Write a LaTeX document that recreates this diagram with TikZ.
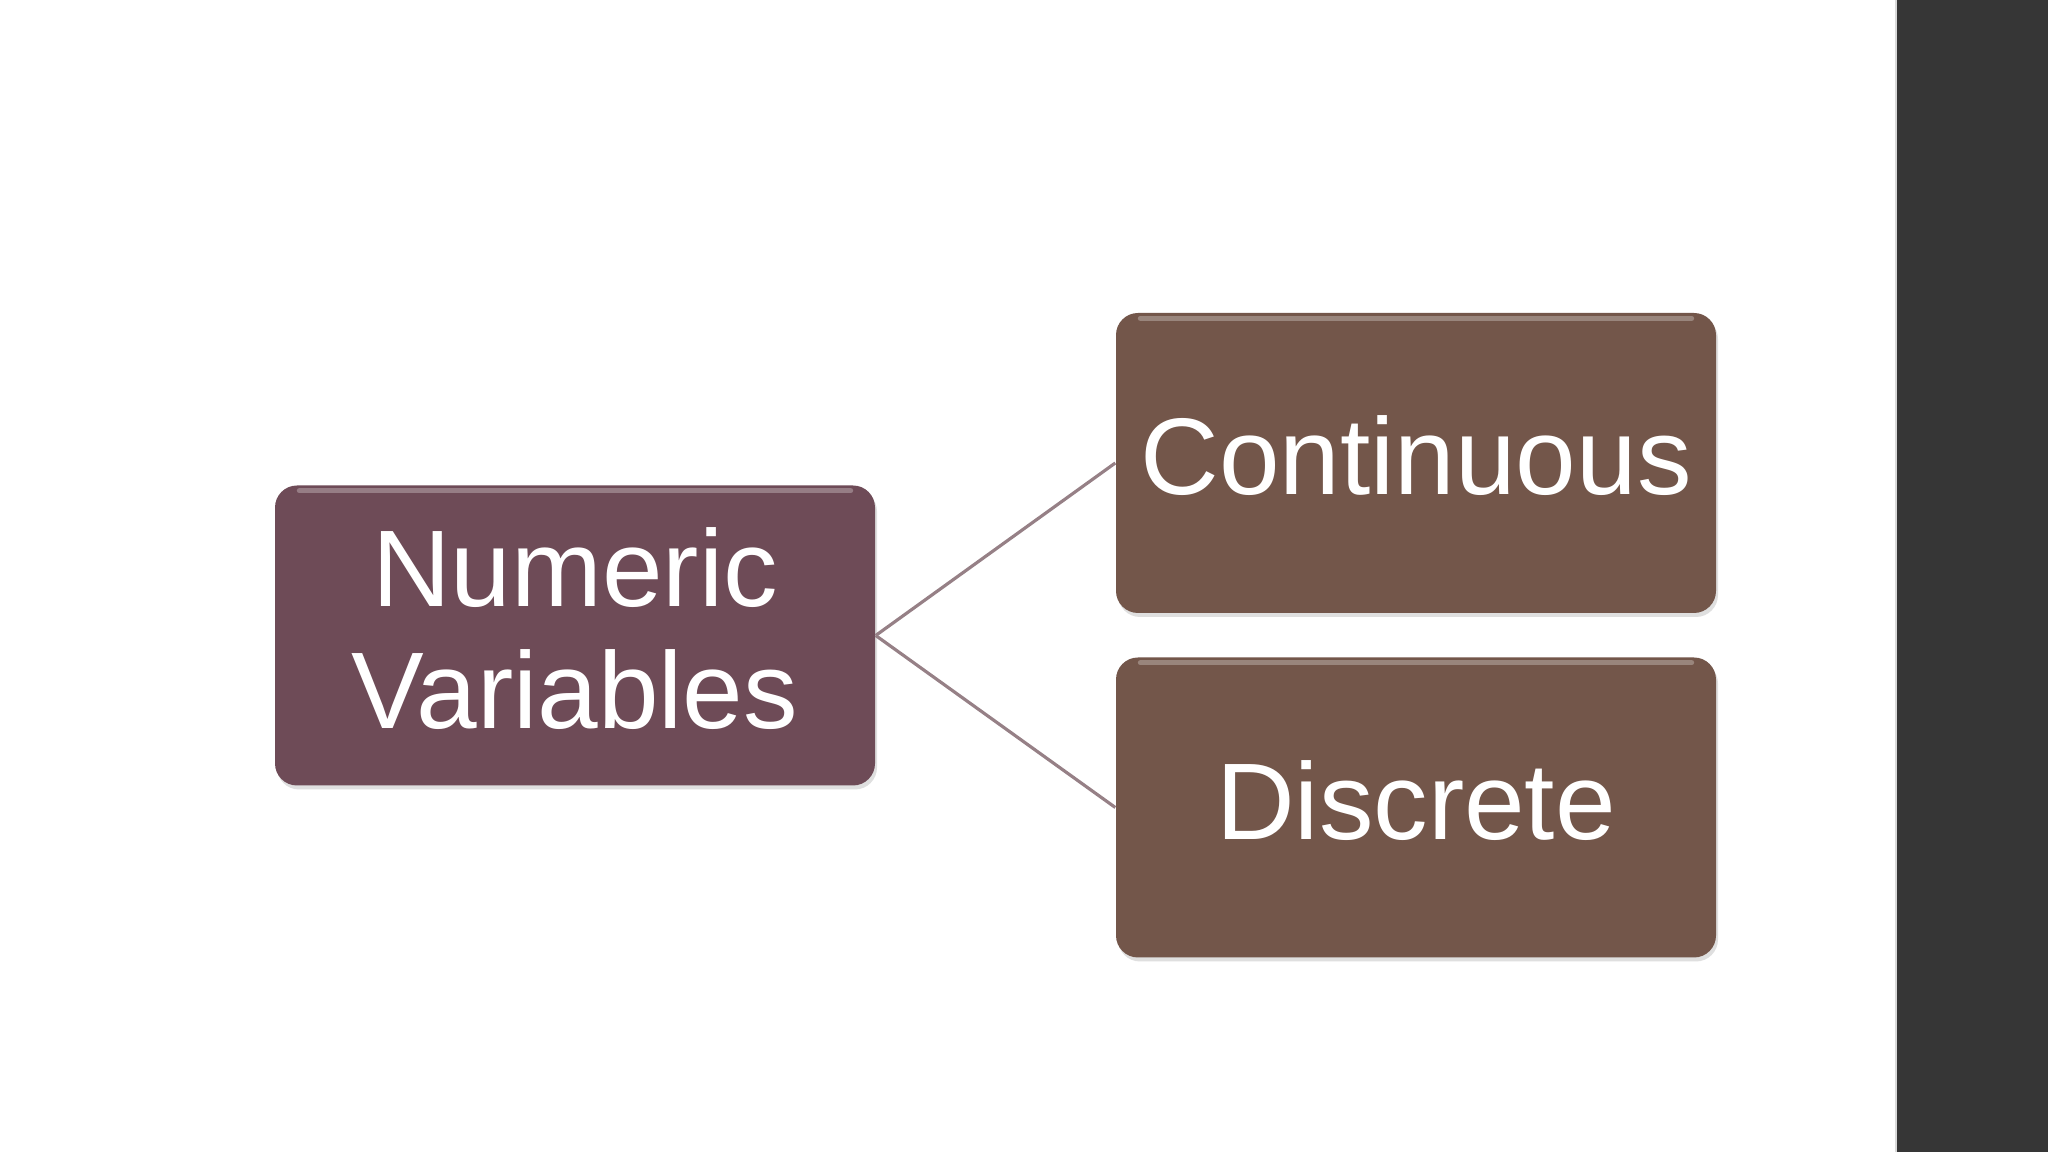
\documentclass[tikz,border=0pt]{standalone}
\usepackage{fontspec}
\setmainfont{Liberation Sans}
\usetikzlibrary{shadows}
\definecolor{mauvebox}{RGB}{110,75,87}
\definecolor{brownbox}{RGB}{115,86,74}
\definecolor{linkcol}{RGB}{150,128,134}
\definecolor{sidebar}{RGB}{54,54,54}
\tikzset{
  box/.style={rounded corners=0.22cm, minimum width=6cm, minimum height=3cm, inner sep=0pt,
    drop shadow={shadow xshift=0.02cm, shadow yshift=-0.04cm, opacity=0.25}},
  boxtext/.style={text=white, font=\fontsize{31}{34.5}\selectfont, align=center, yshift=0.07cm},
  link/.style={draw=linkcol, line width=0.9pt},
  gloss/.style={draw=white, opacity=0.28, line width=1.4pt, line cap=round}
}
\begin{document}
\begin{tikzpicture}
\useasboundingbox (0,0) rectangle (20.48,11.52);
\fill[white] (0,0) rectangle (20.48,11.52);
\fill[sidebar] (18.97,0) rectangle (20.48,11.52);
\draw[gray!30, line width=0.6pt] (18.96,0) -- (18.96,11.52);

\node[box, fill=mauvebox, label={[boxtext]center:{Numeric\\Variables}}] (num) at (5.75,5.165) {};
\node[box, fill=brownbox, label={[boxtext]center:Continuous}] (cont) at (14.16,6.89) {};
\node[box, fill=brownbox, label={[boxtext]center:Discrete}] (disc) at (14.16,3.445) {};

\foreach \n in {num,cont,disc}{
  \draw[gloss] ([xshift=0.25cm,yshift=-0.06cm]\n.north west) -- ([xshift=-0.25cm,yshift=-0.06cm]\n.north east);
}

\draw[link] (num.east) -- (cont.west);
\draw[link] (num.east) -- (disc.west);
\end{tikzpicture}
\end{document}
